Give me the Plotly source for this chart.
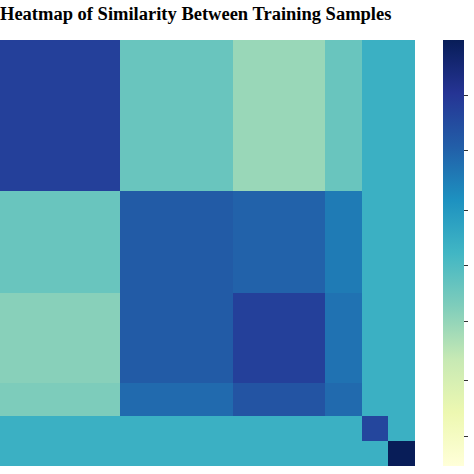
import plotly.graph_objects as go

# block boundaries (sample index) along columns and rows
col_edges = [0, 120, 233, 325, 362, 388, 415]
row_edges = [0, 151, 253, 343, 376, 401, 426]

# similarity values per block
row_a = [0.84, 0.42, 0.33, 0.42, 0.52, 0.52]
row_b1 = [0.42, 0.76, 0.74, 0.68, 0.52, 0.52]
row_b2 = [0.36, 0.76, 0.84, 0.70, 0.52, 0.52]
row_s = [0.38, 0.72, 0.78, 0.72, 0.52, 0.52]
row_c = [0.52, 0.52, 0.52, 0.52, 0.82, 0.52]
row_d = [0.52, 0.52, 0.52, 0.52, 0.52, 1.0]
z = [row_a, row_b1, row_b2, row_s, row_c, row_d]

cbar_ticks = [0.07, 0.2, 0.34, 0.47, 0.6, 0.74, 0.87]

fig = go.Figure(go.Heatmap(
    x=col_edges, y=row_edges, z=z,
    colorscale="YlGnBu", zmin=0, zmax=1,
    colorbar=dict(x=443/474, xanchor="left", xpad=0, ypad=0, thickness=21,
                  len=1, y=0.5, outlinewidth=0, ticks="outside", ticklen=4,
                  tickcolor="#333", tickvals=cbar_ticks, showticklabels=False),
))

fig.update_xaxes(visible=False, range=[0, 415], domain=[0, 415/474])
fig.update_yaxes(visible=False, range=[426, 0])

fig.update_layout(
    width=474, height=474,
    margin=dict(l=0, r=0, t=40, b=8, autoexpand=False),
    plot_bgcolor="white", paper_bgcolor="white",
    title=dict(text="<b>Heatmap of Similarity Between Training Samples</b>",
               x=0, xanchor="left", y=0.985, yanchor="top", automargin=False,
               font=dict(family="Liberation Serif", size=18.5, color="black")),
)

fig.write_html("out.html", config={"displayModeBar": False},
               post_script="document.body.style.margin='0';")
